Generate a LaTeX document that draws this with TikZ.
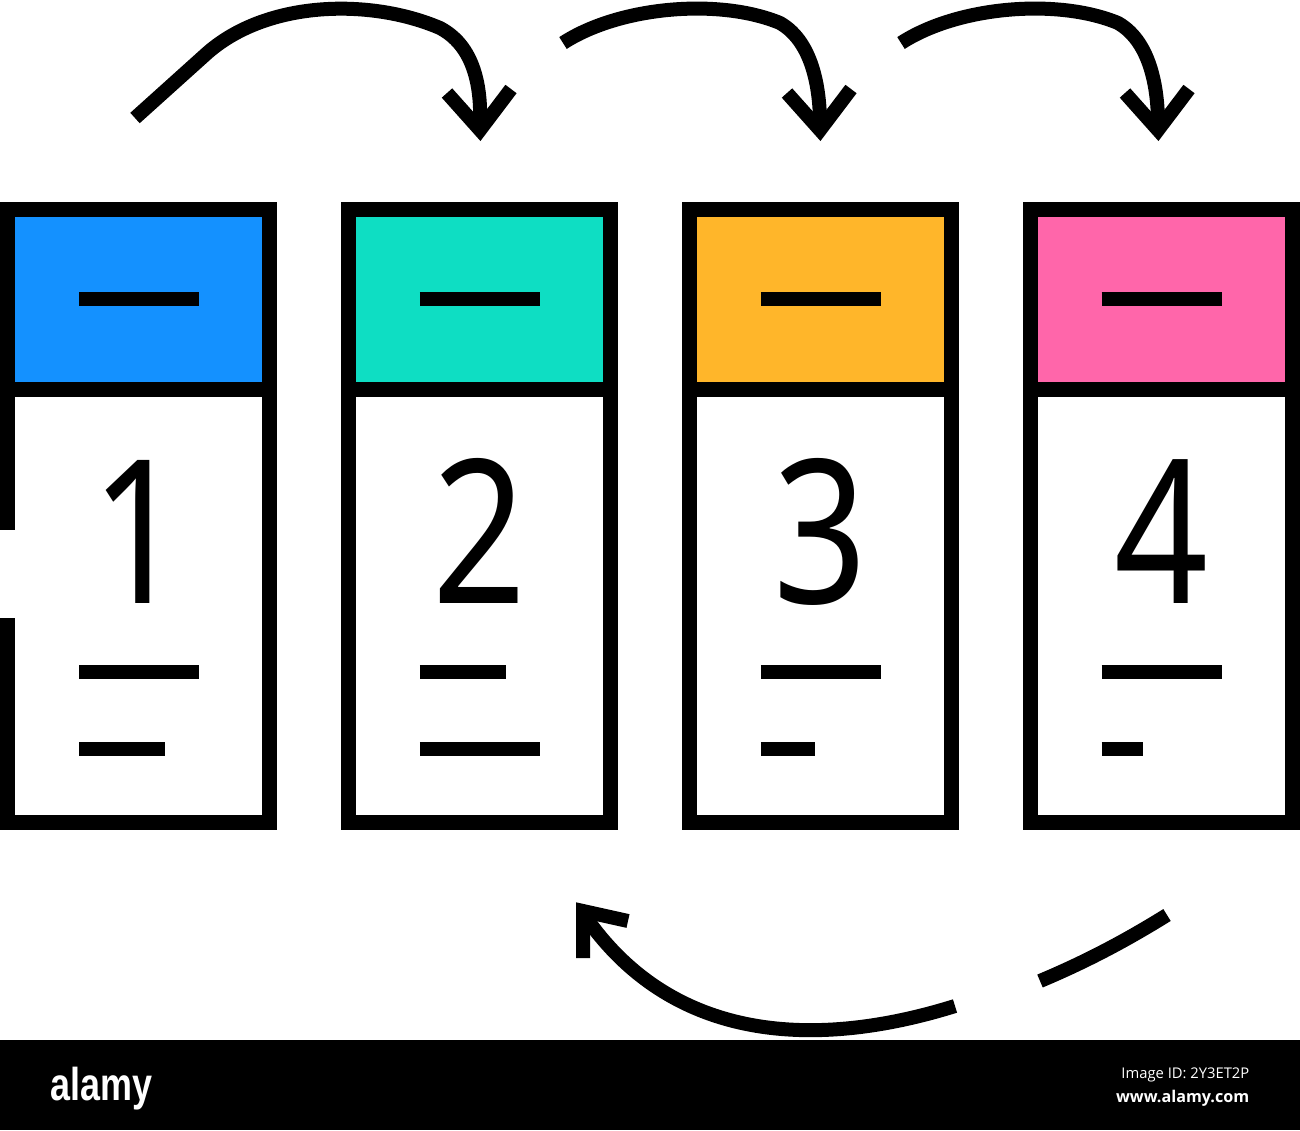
\documentclass[tikz,border=0pt]{standalone}
\usepackage{fontspec}
\setmainfont{Liberation Sans}
\newfontfamily\markfont{Open Sans}
\newfontfamily\numfont{Noto Sans}
\usetikzlibrary{calc}
\definecolor{cardblue}{HTML}{1491FF}
\definecolor{cardteal}{HTML}{0EDEC3}
\definecolor{cardorange}{HTML}{FFB62A}
\definecolor{cardpink}{HTML}{FF66AA}
\tikzset{
  stroke/.style={line width=0.14cm},
  border/.style={line width=0.15cm},
  digit/.style={anchor=base, inner sep=0pt, font=\numfont\fontsize{57}{60}\selectfont},
  downhead/.pic={\draw[stroke] (-33,-37) -- (0,0) -- (31,-41);}
}
\begin{document}
\begin{tikzpicture}[x=0.01cm, y=-0.01cm, line join=miter, line cap=butt]
  \useasboundingbox (0,0) rectangle (1300,1130);
  % cards
  \foreach \n/\col/\la/\lb [count=\k from 0] in {1/cardblue/120/86, 2/cardteal/86/120, 3/cardorange/120/54, 4/cardpink/120/41}{
    \begin{scope}[xshift={\k*3.407cm}]
      \fill[\col] (7,209) rectangle (270,390);
      \draw[border] (7.5,209.5) rectangle (269.5,822.5);
      \draw[border] (7.5,389.5) -- (269.5,389.5);
      \draw[stroke] (79,299) -- (199,299);
      \draw[stroke] (79,672) -- ++(\la,0);
      \draw[stroke] (79,749) -- ++(\lb,0);
      \node[digit] (num\n) at (139,603) {\scalebox{0.82}[1]{\n}};
    \end{scope}
  }
  \fill[white] (0,530) rectangle (16,618);
  % arrows on top
  \coordinate (a1s) at (135,118);
  \coordinate (a1e) at (480,130);
  \coordinate (a2s) at (563,43);
  \coordinate (a2e) at (820,130);
  \coordinate (a3s) at (901,43);
  \coordinate (a3e) at (1158,130);
  \draw[stroke] (a1s) -- (205,55) .. controls (265,0) and (370,-2) .. (440,28) .. controls (478,48) and (481,95) .. ($(a1e)+(0,-6)$);
  \draw[stroke] (a2s) .. controls (620,6) and (720,-2) .. (780,23) .. controls (815,43) and (820,95) .. ($(a2e)+(0,-6)$);
  \draw[stroke] (a3s) .. controls (958,6) and (1058,-2) .. (1118,23) .. controls (1153,43) and (1158,95) .. ($(a3e)+(0,-6)$);
  \pic at (a1e) {downhead};
  \pic at (a2e) {downhead};
  \pic at (a3e) {downhead};
  % arrow back
  \coordinate (bs) at (955,1006);
  \coordinate (be) at (583,911);
  \draw[stroke] (bs) .. controls (830,1045) and (680,1050) .. ($(be)+(4,8)$);
  \draw[stroke] (583,958) -- (be) -- (628,921);
  \coordinate (ds) at (1040,981);
  \coordinate (de) at (1167,915);
  \draw[stroke] (ds) .. controls (1090,960) and (1130,938) .. (de);
  % bar
  \fill[black] (0,1040) rectangle (1300,1130);
  \node[anchor=base west, inner sep=0pt, white, font=\bfseries\fontsize{13.1}{14}\selectfont] (logo) at (50,1100) {\scalebox{0.78}[1]{alamy}};
  \node[anchor=base east, inner sep=0pt, white, font=\markfont\fontsize{4.2}{5}\selectfont] (imgid) at (1250,1078) {Image ID: 2Y3ET2P};
  \node[anchor=base east, inner sep=0pt, white, font=\markfont\bfseries\fontsize{4.6}{5}\selectfont] (site) at (1250,1102) {www.alamy.com};
\end{tikzpicture}
\end{document}
